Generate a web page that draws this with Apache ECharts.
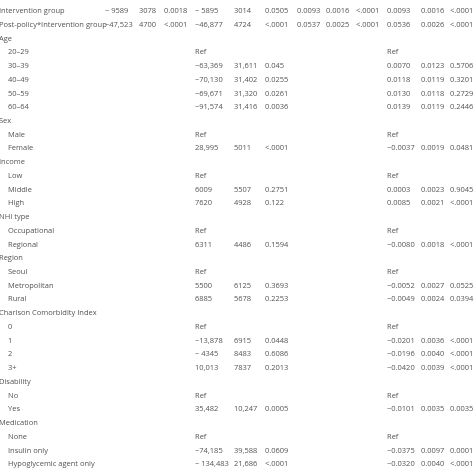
<!DOCTYPE html>
<html>
<head>
<meta charset="utf-8">
<script src="https://cdn.jsdelivr.net/npm/echarts@6/dist/echarts.min.js"></script>
<style>html,body{margin:0;background:#fff}#main{width:474px;height:474px}</style>
</head>
<body>
<div id="main"></div>
<script>
// row labels (indent = subcategory)
var labels = ['Intervention group', 'Post-policy*Intervention group', 'Age', '  20–29', '  30–39', '  40–49', '  50–59', '  60–64',
  'Sex', '  Male', '  Female', 'Income', '  Low', '  Middle', '  High', 'NHI type', '  Occupational', '  Regional',
  'Region', '  Seoul', '  Metropolitan', '  Rural', 'Charlson Comorbidity Index', '  0', '  1', '  2', '  3+',
  'Disability', '  No', '  Yes', 'Medication', '  None', '  Insulin only', '  Hypoglycemic agent only']

var n = labels.length
function col(first) { var a = first.slice(); while (a.length < n) a.push(''); return a }

var c1 = col(['− 9589', '−47,523'])
var c2 = col(['3078', '4700'])
var c3 = col(['0.0018', '<.0001'])
var c4 = ['− 5895', '−46,877', '', 'Ref', '−63,369', '−70,130', '−69,671', '−91,574', '', 'Ref', '28,995', '', 'Ref', '6009', '7620',
  '', 'Ref', '6311', '', 'Ref', '5500', '6885', '', 'Ref', '−13,878', '− 4345', '10,013', '', 'Ref', '35,482', '', 'Ref', '−74,185', '− 134,483']
var c5 = ['3014', '4724', '', '', '31,611', '31,402', '31,320', '31,416', '', '', '5011', '', '', '5507', '4928',
  '', '', '4486', '', '', '6125', '5678', '', '', '6915', '8483', '7837', '', '', '10,247', '', '', '39,588', '21,686']
var c6 = ['0.0505', '<.0001', '', '', '0.045', '0.0255', '0.0261', '0.0036', '', '', '<.0001', '', '', '0.2751', '0.122',
  '', '', '0.1594', '', '', '0.3693', '0.2253', '', '', '0.0448', '0.6086', '0.2013', '', '', '0.0005', '', '', '0.0609', '<.0001']
var c7 = col(['0.0093', '0.0537'])
var c8 = col(['0.0016', '0.0025'])
var c9 = col(['<.0001', '<.0001'])
var c10 = ['0.0093', '0.0536', '', 'Ref', '0.0070', '0.0118', '0.0130', '0.0139', '', 'Ref', '−0.0037', '', 'Ref', '0.0003', '0.0085',
  '', 'Ref', '−0.0080', '', 'Ref', '−0.0052', '−0.0049', '', 'Ref', '−0.0201', '−0.0196', '−0.0420', '', 'Ref', '−0.0101', '', 'Ref', '−0.0375', '−0.0320']
var c11 = ['0.0016', '0.0026', '', '', '0.0123', '0.0119', '0.0118', '0.0119', '', '', '0.0019', '', '', '0.0023', '0.0021',
  '', '', '0.0018', '', '', '0.0027', '0.0024', '', '', '0.0036', '0.0040', '0.0039', '', '', '0.0035', '', '', '0.0097', '0.0040']
var c12 = ['<.0001', '<.0001', '', '', '0.5706', '0.3201', '0.2729', '0.2446', '', '', '0.0481', '', '', '0.9045', '<.0001',
  '', '', '<.0001', '', '', '0.0525', '0.0394', '', '', '<.0001', '<.0001', '<.0001', '', '', '0.0035', '', '', '0.0001', '<.0001']

var columns = [c1, c2, c3, c4, c5, c6, c7, c8, c9, c10, c11, c12]
var colX = [105, 139, 164, 195, 234, 265, 297, 326, 356, 387, 421, 450]

var myChart = echarts.init(document.getElementById('main'))
var els = []
var font = '7.5px "Open Sans", sans-serif'
labels.forEach(function (lab, i) {
  var y = 11 + i * 13.73
  var sub = lab.indexOf('  ') === 0
  els.push({ type: 'text', x: sub ? 8 : -1, y: y, style: { text: lab.trim(), font: font, fill: '#555', verticalAlign: 'middle' } })
  columns.forEach(function (c, j) {
    if (c[i]) els.push({ type: 'text', x: colX[j], y: y, style: { text: c[i], font: font, fill: '#555', verticalAlign: 'middle' } })
  })
})

var option = { animation: false, graphic: { elements: els } }
myChart.setOption(option)
</script>
</body>
</html>
